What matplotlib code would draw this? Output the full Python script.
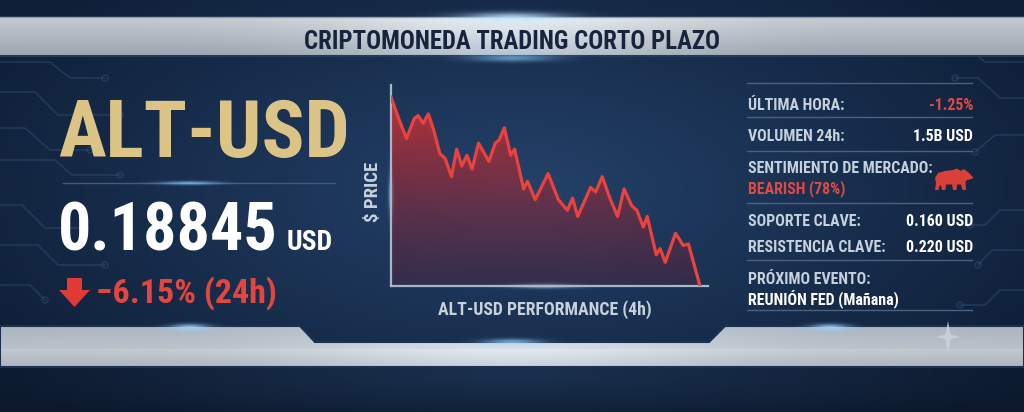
import numpy as np
import matplotlib
matplotlib.use('Agg')
import matplotlib.pyplot as plt
from matplotlib import font_manager as fm
from matplotlib.patches import Polygon, Circle

# price over the last 4 hours (minutes from start, price in USD)
minutes = [0, 6, 12, 18, 21, 25, 29, 33, 38, 42, 47, 51, 55, 59, 63, 68, 76, 81, 84, 88,
           93, 96, 103, 106, 112, 122, 130, 137, 141, 145, 155, 159, 164, 170, 176, 181,
           187, 191, 196, 199, 206, 209, 213, 221, 227, 231, 240]
prices = [0.2008, 0.1994, 0.1981, 0.1994, 0.1996, 0.1991, 0.1997, 0.1987, 0.1971, 0.1968,
          0.1956, 0.1974, 0.1963, 0.1970, 0.1961, 0.1978, 0.1966, 0.1978, 0.1980, 0.1988,
          0.1970, 0.1974, 0.1948, 0.1953, 0.1941, 0.1958, 0.1941, 0.1934, 0.1942, 0.1930,
          0.1949, 0.1946, 0.1956, 0.1942, 0.1930, 0.1948, 0.1937, 0.1934, 0.1923, 0.1930,
          0.1905, 0.1909, 0.1900, 0.1919, 0.1911, 0.1912, 0.18845]

title = "CRIPTOMONEDA TRADING CORTO PLAZO"
pair = "ALT-USD"
last_price = "0.18845"
change_24h = "\u22126.15% (24h)"
stat_labels = ["ÚLTIMA HORA:", "VOLUMEN 24h:", "SENTIMIENTO DE MERCADO:",
               "SOPORTE CLAVE:", "RESISTENCIA CLAVE:", "PRÓXIMO EVENTO:"]
stat_values = ["-1.25%", "1.5B USD", "BEARISH (78%)", "0.160 USD", "0.220 USD",
               "REUNIÓN FED (Mañana)"]

W, H = 1024, 412
names = {f.name for f in fm.fontManager.ttflist}
FONT = [n for n in ['Liberation Sans Narrow', 'Roboto Condensed', 'Roboto', 'DejaVu Sans']
        if n in names][0]
plt.rcParams['font.family'] = [FONT, 'DejaVu Sans']

fig = plt.figure(figsize=(W / 100, H / 100), dpi=100)
ax = fig.add_axes([0, 0, 1, 1])
ax.axis('off')
renderer = fig.canvas.get_renderer()


def hexc(h):
    h = h.lstrip('#')
    return np.array([int(h[i:i + 2], 16) for i in (0, 2, 4)]) / 255


# background: radial navy gradient
yy, xx = np.mgrid[0:H, 0:W]
r = np.clip(np.sqrt(((xx - 512) / 600) ** 2 + ((yy - 190) / 280) ** 2), 0, 1)[..., None]
bg = hexc('#24426a') * (1 - r) + hexc('#0f1f38') * r
low = yy >= 366
r2 = np.clip(np.sqrt(((xx - 512) / 560) ** 2 + ((yy - 372) / 60) ** 2), 0, 1)[..., None]
bg_low = hexc('#1b3150') * (1 - r2) + hexc('#0c192d') * r2
bg = np.where(low[..., None], bg_low, bg)
ax.imshow(bg, extent=(0, W, H, 0), aspect='auto', zorder=0)


def glow(cx, cy, rx, ry, color, alpha, z=3):
    gy, gx = np.mgrid[-1:1:60j, -1:1:120j]
    a = np.exp(-(gx ** 2 + gy ** 2) * 4.5) * alpha
    img = np.zeros((60, 120, 4))
    img[..., :3] = hexc(color)
    img[..., 3] = a
    ax.imshow(img, extent=(cx - rx, cx + rx, cy + ry, cy - ry), aspect='auto', zorder=z)


# faint circuit traces
traces = [[(0, 62), (50, 62), (70, 78), (105, 78)],
          [(0, 92), (35, 92), (58, 115), (120, 115)],
          [(0, 128), (25, 128), (50, 150), (90, 150)],
          [(0, 160), (55, 160), (72, 175), (120, 175)],
          [(0, 205), (22, 205), (45, 228), (85, 228)],
          [(0, 245), (38, 245), (58, 265), (105, 265)],
          [(0, 285), (30, 285), (45, 300)],
          [(1024, 62), (985, 62), (965, 45), (930, 45)],
          [(1024, 98), (1000, 98), (978, 78), (955, 78)],
          [(1024, 135), (995, 135), (975, 152)],
          [(1024, 210), (1000, 210), (985, 225), (970, 225)],
          [(1024, 250), (992, 250), (978, 265)],
          [(1024, 290), (1000, 290), (985, 305), (960, 305)]]
for tr in traces:
    xs, ys = zip(*tr)
    ax.plot(xs, ys, color='#3b5b82', lw=1, alpha=0.45, zorder=1)
    ax.add_patch(Circle(tr[-1], 3, fill=False, ec='#3b5b82', lw=1, alpha=0.45, zorder=1))

# top silver banner
by0, by1 = 17, 56
t = np.linspace(0, 1, by1 - by0)[:, None, None]
hx = np.linspace(-1, 1, W)[None, :, None]
band = hexc('#e6ebf0') * (1 - t) + hexc('#b4c0cd') * t
band = band * (0.86 + 0.16 * np.exp(-(hx / 0.35) ** 2))
ax.imshow(np.clip(band, 0, 1), extent=(0, W, by1, by0), aspect='auto', zorder=2)
ax.plot([0, W], [by1, by1], color='#27395a', lw=1.5, zorder=3)
ax.plot([0, W], [by0, by0], color='#8e9fb3', lw=1, zorder=3)
glow(512, by0, 110, 10, '#bfe4ff', 0.8)
glow(512, by1 + 2, 90, 8, '#8fcfff', 0.6)

# bottom silver band with a notch under the chart
pts = [(0, 326), (300, 326), (315, 342), (709, 342), (725, 326), (W, 326), (W, 367), (0, 367)]
t = np.linspace(0, 1, 41)[:, None, None]
band2 = hexc('#c3cedb') * (1 - t) + hexc('#dfe5ec') * t
band2 = np.where(t > 0.55, hexc('#dfe5ec') * (1 - (t - 0.55) * 1.2) + hexc('#aebaca') * (t - 0.55) * 1.2, band2)
band2 = band2 * (0.88 + 0.14 * np.exp(-(hx / 0.4) ** 2))
im = ax.imshow(np.clip(band2, 0, 1), extent=(0, W, 367, 326), aspect='auto', zorder=2)
poly = Polygon(pts, closed=True, fc='none', ec='#1e3050', lw=1.5, zorder=3)
ax.add_patch(poly)
im.set_clip_path(poly)
glow(190, 327, 40, 7, '#9fd6ff', 0.8)
glow(830, 327, 40, 7, '#9fd6ff', 0.8)
glow(512, 342, 60, 7, '#9fd6ff', 0.7)

# sparkle
cx, cy = 948, 337
star = [(cx, cy - 16), (cx + 2.5, cy - 2.5), (cx + 12, cy), (cx + 2.5, cy + 2.5),
        (cx, cy + 16), (cx - 2.5, cy + 2.5), (cx - 12, cy), (cx - 2.5, cy - 2.5)]
ax.add_patch(Polygon(star, closed=True, fc='#c9d3df', ec='none', alpha=0.85, zorder=4))


def fit_text(x, y, s, width, **kw):
    txt = ax.text(x, y, s, fontsize=20, **kw)
    w = txt.get_window_extent(renderer).width
    txt.set_fontsize(20 * width / w)
    return txt


# banner title
fit_text(512, 49, title, 417, ha='center', va='baseline', color='#17243c',
         weight='bold', zorder=5)

# left block
fit_text(58, 157, pair, 292, ha='left', va='baseline', color='#dcc487',
         weight='bold', zorder=5)
ax.plot([63, 335], [183, 183], color='#3f5d82', lw=1, zorder=3)
glow(190, 183, 60, 4, '#8fd0ff', 0.7)
fit_text(58, 250, last_price, 220, ha='left', va='baseline', color='white',
         weight='bold', zorder=5)
fit_text(287, 250, "USD", 46, ha='left', va='baseline', color='white',
         weight='bold', zorder=5)
arrow = [(67, 278), (82, 278), (82, 290), (90, 290), (74.5, 307), (59, 290), (67, 290)]
ax.add_patch(Polygon(arrow, closed=True, fc='#e03a34', ec='none', zorder=5))
fit_text(96, 303, change_24h, 181, ha='left', va='baseline', color='#e2463d',
         weight='bold', zorder=5)

# right stats panel
for yl in [83, 117, 151, 203, 260, 310]:
    ax.plot([747, 972], [yl, yl], color='#4a627f', lw=1, zorder=3)
lab = fit_text(748, 110, stat_labels[0], 97, ha='left', va='baseline',
               color='#c7d1dd', weight='bold', zorder=5)
fs = lab.get_fontsize()
lab_y = [110, 141, 173, 226, 252, 284]
for s, yv in zip(stat_labels[1:], lab_y[1:]):
    ax.text(748, yv, s, fontsize=fs, ha='left', va='baseline', color='#c7d1dd',
            weight='bold', zorder=5)
val_style = [('#e04a44', 973, 110, 'right'), ('white', 973, 141, 'right'),
             ('#e04a44', 748, 193, 'left'), ('white', 973, 226, 'right'),
             ('white', 973, 252, 'right'), ('white', 748, 305, 'left')]
for s, (c, xv, yv, ha) in zip(stat_values, val_style):
    ax.text(xv, yv, s, fontsize=fs, ha=ha, va='baseline', color=c, weight='bold', zorder=5)

# bear icon
bx, by = 935, 168
bear = [(0, 10), (3, 5), (10, 3), (18, 2), (22, 0.5), (26, 3), (28.5, 1), (31, 2.5),
        (34, 5), (37, 8), (38.5, 10), (35, 11.5), (32, 12), (30.5, 14), (31, 22),
        (27.5, 22), (26, 16.5), (22, 16.5), (21.5, 22), (18, 22), (17, 16.5), (11, 16.5),
        (10.5, 22), (7, 22), (6, 17), (4.5, 18), (3.5, 22), (0, 22), (1, 15)]
ax.add_patch(Polygon([(bx + a, by + b) for a, b in bear], closed=True, fc='#d9403a',
                     ec='none', zorder=5))

# chart
x_left, x_right, y_top, y_bot = 391, 708, 85, 286
cax = fig.add_axes([x_left / W, 1 - y_bot / H, (x_right - x_left) / W, (y_bot - y_top) / H])
cax.patch.set_alpha(0)
xmax = 240 * (x_right - x_left) / (700 - x_left)
ymin, ymax = 0.18845, 0.2016
cax.set_xlim(0, xmax)
cax.set_ylim(ymin, ymax)
g = np.linspace(1, 0, 100)[:, None]
fill = np.zeros((100, 2, 4))
fill[..., 0] = 0.42 + 0.38 * g
fill[..., 1] = 0.12 + 0.08 * g
fill[..., 2] = 0.20 + 0.02 * g
fill[..., 3] = 0.30 + 0.60 * g
top_p = max(prices)
fimg = cax.imshow(fill, extent=(0, xmax, ymin, top_p), aspect='auto', zorder=1)
area = Polygon(list(zip(minutes, prices)) + [(minutes[-1], ymin), (minutes[0], ymin)],
               closed=True, fc='none', ec='none', transform=cax.transData)
cax.add_patch(area)
fimg.set_clip_path(area)
cax.set_xlim(0, xmax)
cax.set_ylim(ymin, ymax)
cax.plot(minutes, prices, color='#ea423d', lw=2.3, solid_joinstyle='round', zorder=3)
for side in ['top', 'right']:
    cax.spines[side].set_visible(False)
for side in ['left', 'bottom']:
    cax.spines[side].set_color('#a7b6c8')
    cax.spines[side].set_linewidth(1.6)
cax.set_xticks([])
cax.set_yticks([])
glow(391, 195, 5, 40, '#9fd8ff', 0.7)
glow(545, 286, 70, 5, '#9fd8ff', 0.7)

fit_text(545, 315, "ALT-USD PERFORMANCE (4h)", 214, ha='center', va='baseline',
         color='#c7d1dd', weight='bold', zorder=5)
ptxt = ax.text(373, 192, "$ PRICE", fontsize=14, rotation=90, ha='center', va='center',
               color='#c7d1dd', weight='bold', zorder=5)
ph = ptxt.get_window_extent(renderer).height
ptxt.set_fontsize(14 * 60 / ph)

ax.set_xlim(0, W)
ax.set_ylim(H, 0)
fig.savefig('out.png', dpi=100)
